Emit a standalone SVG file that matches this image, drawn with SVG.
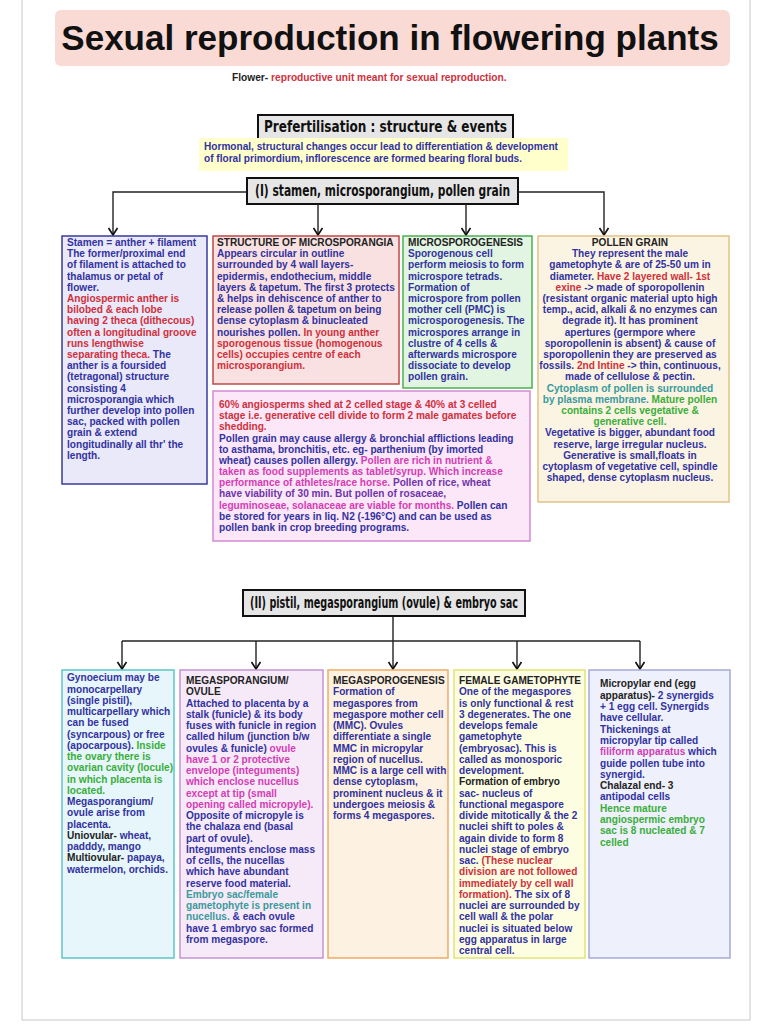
<svg xmlns="http://www.w3.org/2000/svg" width="768" height="1024" viewBox="0 0 768 1024">
<defs>
<marker id="ah" viewBox="0 0 10 10" refX="9" refY="5" markerWidth="10" markerHeight="10" markerUnits="userSpaceOnUse" orient="auto">
<path d="M2,0.5 L9,5 L2,9.5" fill="none" stroke="#111" stroke-width="1.7"/>
</marker>
<style>
text{font-family:"Liberation Sans",Arial,sans-serif;font-weight:bold;font-size:10.1px;fill:#3232a0}
.h{font-family:"DejaVu Sans Condensed","DejaVu Sans",sans-serif;fill:#111}
.k{fill:#222}
.b{fill:#3232a0}
.r{fill:#d0303c}
.g{fill:#3aae3a}
.t{fill:#3a9a9a}
.m{fill:#d43cb4}
.p{fill:#6e34a8}
.hd{fill:#e6e6e6;stroke:#111;stroke-width:2}
.c{fill:none;stroke:#222;stroke-width:1.4}
</style>
</defs>
<rect width="768" height="1024" fill="#fff"/>
<path d="M22,0 V1020 H750 V0" fill="none" stroke="#c8c8c8" stroke-width="1"/>

<g id="title">
<rect x="55" y="10" width="675" height="56" rx="6" fill="#f9dad4"/>
<text x="390" y="50" text-anchor="middle" style="font-size:35px;fill:#111">Sexual reproduction in flowering plants</text>
</g>
<g id="subtitle">
<text x="232" y="81" style="font-size:10.2px"><tspan class="k">Flower- </tspan><tspan class="r">reproductive unit meant for sexual reproduction.</tspan></text>
</g>

<g id="prefert">
<rect class="hd" x="258" y="115" width="255" height="24"/>
<text class="h" x="385.5" y="132" text-anchor="middle" style="font-size:15px" textLength="243" lengthAdjust="spacingAndGlyphs">Prefertilisation : structure &amp; events</text>
</g>
<g id="hormonal">
<rect x="199" y="138" width="369" height="33" fill="#ffffcc"/>
<text x="204" y="150"><tspan x="204">Hormonal, structural changes occur lead to differentiation &amp; development</tspan><tspan x="204" dy="11.5">of floral primordium, inflorescence are formed bearing floral buds.</tspan></text>
</g>

<g id="sec1">
<rect class="hd" x="247" y="178" width="271" height="26"/>
<text class="h" x="382.5" y="196" text-anchor="middle" style="font-size:15px" textLength="255" lengthAdjust="spacingAndGlyphs">(I) stamen, microsporangium, pollen grain</text>
</g>

<g id="connectors">
<path class="c" d="M247,192 H113 V235" marker-end="url(#ah)"/>
<path class="c" d="M518,192 H604 V235" marker-end="url(#ah)"/>
<path class="c" d="M318,204 V235" marker-end="url(#ah)"/>
<path class="c" d="M466,204 V235" marker-end="url(#ah)"/>
<path class="c" d="M393,616 V669" marker-end="url(#ah)"/>
<path class="c" d="M122,641 H640"/>
<path class="c" d="M122,641 V669" marker-end="url(#ah)"/>
<path class="c" d="M256,641 V669" marker-end="url(#ah)"/>
<path class="c" d="M517,641 V669" marker-end="url(#ah)"/>
<path class="c" d="M640,641 V669" marker-end="url(#ah)"/>
</g>

<g id="stamen">
<rect x="62" y="236" width="145" height="248" fill="#e9e9f9" stroke="#3a3aa0" stroke-width="1.5"/>
<text x="67" y="246">Stamen = anther + filament</text>
<text x="67" y="257">The former/proximal end</text>
<text x="67" y="268">of filament is attached to</text>
<text x="67" y="280">thalamus or petal of</text>
<text x="67" y="291">flower.</text>
<text x="67" y="302" class="r">Angiospermic anther is</text>
<text x="67" y="313" class="r">bilobed &amp; each lobe</text>
<text x="67" y="324" class="r">having 2 theca (dithecous)</text>
<text x="67" y="336" class="r">often a longitudinal groove</text>
<text x="67" y="347" class="r">runs lengthwise</text>
<text x="67" y="358"><tspan class="r">separating theca.</tspan> The</text>
<text x="67" y="369">anther is a foursided</text>
<text x="67" y="380">(tetragonal) structure</text>
<text x="67" y="392">consisting 4</text>
<text x="67" y="403">microsporangia which</text>
<text x="67" y="414">further develop into pollen</text>
<text x="67" y="425">sac, packed with pollen</text>
<text x="67" y="436">grain &amp; extend</text>
<text x="67" y="448">longitudinally all thr' the</text>
<text x="67" y="459">length.</text>
</g>

<g id="structure">
<rect x="213" y="236" width="186" height="148" fill="#f9e1e1" stroke="#c04848" stroke-width="1.5"/>
<text x="217" y="246" class="k">STRUCTURE OF MICROSPORANGIA</text>
<text x="217" y="257">Appears circular in outline</text>
<text x="217" y="268">surrounded by 4 wall layers-</text>
<text x="217" y="280">epidermis, endothecium, middle</text>
<text x="217" y="291">layers &amp; tapetum. The first 3 protects</text>
<text x="217" y="302">&amp; helps in dehiscence of anther to</text>
<text x="217" y="313">release pollen &amp; tapetum on being</text>
<text x="217" y="324">dense cytoplasm &amp; binucleated</text>
<text x="217" y="336">nourishes pollen. <tspan class="r">In young anther</tspan></text>
<text x="217" y="347" class="r">sporogenous tissue (homogenous</text>
<text x="217" y="358" class="r">cells) occupies centre of each</text>
<text x="217" y="369" class="r">microsporangium.</text>
</g>

<g id="microsporogenesis">
<rect x="403" y="236" width="129" height="152" fill="#e2f5e2" stroke="#4caf50" stroke-width="1.5"/>
<text x="408" y="246" class="k">MICROSPOROGENESIS</text>
<text x="408" y="257">Sporogenous cell</text>
<text x="408" y="268">perform meiosis to form</text>
<text x="408" y="280">microspore tetrads.</text>
<text x="408" y="291">Formation of</text>
<text x="408" y="302">microspore from pollen</text>
<text x="408" y="313">mother cell (PMC) is</text>
<text x="408" y="324">microsporogenesis. The</text>
<text x="408" y="336">microspores arrange in</text>
<text x="408" y="347">clustre of 4 cells &amp;</text>
<text x="408" y="358">afterwards microspore</text>
<text x="408" y="369">dissociate to develop</text>
<text x="408" y="380">pollen grain.</text>
</g>

<g id="pollen">
<rect x="538" y="236" width="191" height="266" fill="#fbf4e3" stroke="#e2c384" stroke-width="1.5"/>
<g text-anchor="middle">
<text x="630" y="246" class="k">POLLEN GRAIN</text>
<text x="630" y="257">They represent the male</text>
<text x="630" y="268">gametophyte &amp; are of 25-50 um in</text>
<text x="630" y="280">diameter. <tspan class="r">Have 2 layered wall- 1st</tspan></text>
<text x="630" y="291"><tspan class="r">exine</tspan> -&gt; made of sporopollenin</text>
<text x="630" y="302">(resistant organic material upto high</text>
<text x="630" y="313">temp., acid, alkali &amp; no enzymes can</text>
<text x="630" y="324">degrade it). It has prominent</text>
<text x="630" y="336">apertures (germpore where</text>
<text x="630" y="347">sporopollenin is absent) &amp; cause of</text>
<text x="630" y="358">sporopollenin they are preserved as</text>
<text x="630" y="369">fossils. <tspan class="r">2nd Intine</tspan> -&gt; thin, continuous,</text>
<text x="630" y="380">made of cellulose &amp; pectin.</text>
<text x="630" y="392" class="t">Cytoplasm of pollen is surrounded</text>
<text x="630" y="403"><tspan class="t">by plasma membrane.</tspan> <tspan class="g">Mature pollen</tspan></text>
<text x="630" y="414" class="g">contains 2 cells vegetative &amp;</text>
<text x="630" y="425" class="g">generative cell.</text>
<text x="630" y="436">Vegetative is bigger, abundant food</text>
<text x="630" y="448">reserve, large irregular nucleus.</text>
<text x="630" y="459">Generative is small,floats in</text>
<text x="630" y="470">cytoplasm of vegetative cell, spindle</text>
<text x="630" y="481">shaped, dense cytoplasm nucleus.</text>
</g>
</g>

<g id="shedding">
<rect x="213" y="391" width="317" height="150" fill="#fbe7f8" stroke="#d48ad4" stroke-width="1.5"/>
<text x="219" y="408" class="r">60% angiosperms shed at 2 celled stage &amp; 40% at 3 celled</text>
<text x="219" y="419" class="r">stage i.e. generative cell divide to form 2 male gamates before</text>
<text x="219" y="430" class="r">shedding.</text>
<text x="219" y="442">Pollen grain may cause allergy &amp; bronchial afflictions leading</text>
<text x="219" y="453">to asthama, bronchitis, etc. eg- parthenium (by imorted</text>
<text x="219" y="464">wheat) causes pollen allergy. <tspan class="m">Pollen are rich in nutrient &amp;</tspan></text>
<text x="219" y="475" class="m">taken as food supplements as tablet/syrup. Which increase</text>
<text x="219" y="486"><tspan class="m">performance of athletes/race horse.</tspan> <tspan class="p">Pollen of rice, wheat</tspan></text>
<text x="219" y="497" class="p">have viability of 30 min. But pollen of rosaceae,</text>
<text x="219" y="509"><tspan class="m">leguminoseae, solanaceae are viable for months.</tspan> Pollen can</text>
<text x="219" y="520">be stored for years in liq. N2 (-196°C) and can be used as</text>
<text x="219" y="531">pollen bank in crop breeding programs.</text>
</g>

<g id="sec2">
<rect class="hd" x="243" y="590" width="282" height="26"/>
<text class="h" x="384" y="608" text-anchor="middle" style="font-size:15px" textLength="268" lengthAdjust="spacingAndGlyphs">(II) pistil, megasporangium (ovule) &amp; embryo sac</text>
</g>

<g id="gynoecium">
<rect x="62" y="670" width="112" height="288" fill="#e6f6fa" stroke="#5cc6c6" stroke-width="1.5"/>
<text x="67" y="681">Gynoecium may be</text>
<text x="67" y="693">monocarpellary</text>
<text x="67" y="704">(single pistil),</text>
<text x="67" y="715">multicarpellary which</text>
<text x="67" y="726">can be fused</text>
<text x="67" y="738">(syncarpous) or free</text>
<text x="67" y="749">(apocarpous). <tspan class="g">Inside</tspan></text>
<text x="67" y="760" class="g">the ovary there is</text>
<text x="67" y="771" class="g">ovarian cavity (locule)</text>
<text x="67" y="783" class="g">in which placenta is</text>
<text x="67" y="794" class="g">located.</text>
<text x="67" y="805">Megasporangium/</text>
<text x="67" y="816">ovule arise from</text>
<text x="67" y="828">placenta.</text>
<text x="67" y="839"><tspan class="k">Uniovular-</tspan> wheat,</text>
<text x="67" y="850">padddy, mango</text>
<text x="67" y="861"><tspan class="k">Multiovular-</tspan> papaya,</text>
<text x="67" y="873">watermelon, orchids.</text>
</g>

<g id="megasporangium">
<rect x="180" y="670" width="143" height="288" fill="#f6eaf9" stroke="#c394d4" stroke-width="1.5"/>
<text x="186" y="684" class="k">MEGASPORANGIUM/</text>
<text x="186" y="695" class="k">OVULE</text>
<text x="186" y="707">Attached to placenta by a</text>
<text x="186" y="718">stalk (funicle) &amp; its body</text>
<text x="186" y="729">fuses with funicle in region</text>
<text x="186" y="740">called hilum (junction b/w</text>
<text x="186" y="752">ovules &amp; funicle)  <tspan class="m">ovule</tspan></text>
<text x="186" y="763" class="m">have 1 or 2 protective</text>
<text x="186" y="774" class="m">envelope (integuments)</text>
<text x="186" y="785" class="m">which enclose nucellus</text>
<text x="186" y="797" class="m">except at tip (small</text>
<text x="186" y="808" class="m">opening called micropyle).</text>
<text x="186" y="819">Opposite of micropyle is</text>
<text x="186" y="830">the chalaza end (basal</text>
<text x="186" y="842">part of ovule).</text>
<text x="186" y="853">Integuments enclose mass</text>
<text x="186" y="864">of cells, the nucellas</text>
<text x="186" y="875">which have abundant</text>
<text x="186" y="887">reserve food material.</text>
<text x="186" y="898" class="t">Embryo sac/female</text>
<text x="186" y="909" class="t">gametophyte is present in</text>
<text x="186" y="920"><tspan class="t">nucellus.</tspan> &amp; each ovule</text>
<text x="186" y="932">have 1 embryo sac formed</text>
<text x="186" y="943">from megaspore.</text>
</g>

<g id="megasporogenesis">
<rect x="328" y="670" width="120" height="288" fill="#fdf1e2" stroke="#f0aa64" stroke-width="1.5"/>
<text x="333" y="684" class="k">MEGASPOROGENESIS</text>
<text x="333" y="695">Formation of</text>
<text x="333" y="707">megaspores from</text>
<text x="333" y="718">megaspore mother cell</text>
<text x="333" y="729">(MMC). Ovules</text>
<text x="333" y="740">differentiate a single</text>
<text x="333" y="752">MMC in micropylar</text>
<text x="333" y="763">region of nucellus.</text>
<text x="333" y="774">MMC is a large cell with</text>
<text x="333" y="785">dense cytoplasm,</text>
<text x="333" y="797">prominent nucleus &amp; it</text>
<text x="333" y="808">undergoes meiosis &amp;</text>
<text x="333" y="819">forms 4 megaspores.</text>
</g>

<g id="female">
<rect x="454" y="670" width="131" height="288" fill="#fdfde2" stroke="#e2e274" stroke-width="1.5"/>
<text x="459" y="684" class="k">FEMALE GAMETOPHYTE</text>
<text x="459" y="695">One of the megaspores</text>
<text x="459" y="707">is only functional &amp; rest</text>
<text x="459" y="718">3 degenerates. The one</text>
<text x="459" y="729">develops female</text>
<text x="459" y="740">gametophyte</text>
<text x="459" y="752">(embryosac). This is</text>
<text x="459" y="763">called as monosporic</text>
<text x="459" y="774">development.</text>
<text x="459" y="785" class="k">Formation of embryo</text>
<text x="459" y="797">sac- nucleus of</text>
<text x="459" y="808">functional megaspore</text>
<text x="459" y="819">divide mitotically &amp; the 2</text>
<text x="459" y="830">nuclei shift to poles &amp;</text>
<text x="459" y="842">again divide to form 8</text>
<text x="459" y="853">nuclei stage of embryo</text>
<text x="459" y="864">sac. <tspan class="r">(These nuclear</tspan></text>
<text x="459" y="875" class="r">division are not followed</text>
<text x="459" y="887" class="r">immediately by cell wall</text>
<text x="459" y="898"><tspan class="r">formation).</tspan> The six of 8</text>
<text x="459" y="909">nuclei are surrounded by</text>
<text x="459" y="920">cell wall &amp; the polar</text>
<text x="459" y="932">nuclei is situated below</text>
<text x="459" y="943">egg apparatus in large</text>
<text x="459" y="954">central cell.</text>
</g>

<g id="micropylar">
<rect x="589" y="670" width="141" height="288" fill="#eef0fb" stroke="#a4aad8" stroke-width="1.5"/>
<text x="600" y="687" class="k">Micropylar end (egg</text>
<text x="600" y="699"><tspan class="k">apparatus)-</tspan> 2 synergids</text>
<text x="600" y="710">+ 1 egg cell. Synergids</text>
<text x="600" y="721">have cellular.</text>
<text x="600" y="733">Thickenings at</text>
<text x="600" y="744">micropylar tip called</text>
<text x="600" y="755"><tspan class="m">filiform apparatus</tspan> which</text>
<text x="600" y="767">guide pollen tube into</text>
<text x="600" y="778">synergid.</text>
<text x="600" y="789" class="k">Chalazal end- 3</text>
<text x="600" y="800">antipodal cells</text>
<text x="600" y="812" class="g">Hence mature</text>
<text x="600" y="823" class="g">angiospermic embryo</text>
<text x="600" y="834" class="g">sac is 8 nucleated &amp; 7</text>
<text x="600" y="846" class="g">celled</text>
</g>
</svg>
